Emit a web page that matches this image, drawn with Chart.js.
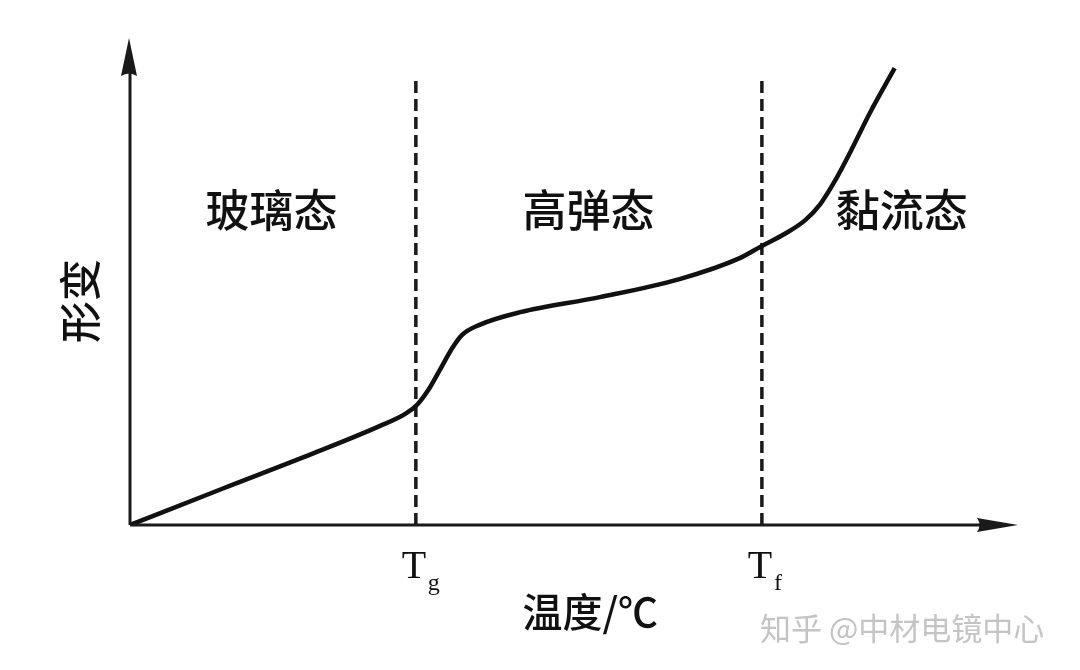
<!DOCTYPE html>
<html>
<head>
<meta charset="utf-8">
<script src="https://cdn.jsdelivr.net/npm/chart.js@4"></script>
<style>
  body { margin: 0; background: #fff; }
  #wrap { width: 1080px; height: 670px; }
</style>
</head>
<body>
<div id="wrap"><canvas id="chart" width="1080" height="670"></canvas></div>
<script>
// temperature (x) vs deformation (y), arbitrary units
const temps = [0, 10.5, 20.7, 28.2, 31.1, 32.5, 33.7, 35.0, 36.4, 37.5, 39.5, 44.1, 53.1, 62.1, 68.9, 71.4, 74.0, 76.3, 78.0, 79.7, 81.4, 83.6, 86.4];
const deform = [0, 7.5, 14.7, 20.3, 22.8, 24.8, 27.7, 31.8, 36.3, 39.0, 41.1, 43.7, 46.8, 50.5, 54.8, 57.3, 59.8, 62.6, 65.9, 70.8, 76.6, 84.6, 93.8];

const Tg = 32.3;
const Tf = 71.4;
const dashTop = 91.4;

const regionNames = ['玻璃态', '高弹态', '黏流态'];
const regionCenters = [16.0, 51.8, 87.2];
const regionLevel = 64.7;

const xTitle = '温度/℃';
const yTitle = '形变';
const tickNames = [['T', 'g'], ['T', 'f']];
const watermark = '知乎 @中材电镜中心';

const curve = temps.map((t, i) => ({ x: t, y: deform[i] }));

const decorPlugin = {
  id: 'decor',
  afterDraw (chart) {
    const ctx = chart.ctx;
    const xs = chart.scales.x;
    const ys = chart.scales.y;
    const x0 = xs.getPixelForValue(0);
    const y0 = ys.getPixelForValue(0);
    const xEnd = xs.getPixelForValue(100);
    const yEnd = ys.getPixelForValue(100);

    ctx.save();
    // axes
    ctx.strokeStyle = '#1a1a1a';
    ctx.fillStyle = '#1a1a1a';
    ctx.lineWidth = 3;
    ctx.beginPath();
    ctx.moveTo(x0, y0);
    ctx.lineTo(x0, yEnd + 20);
    ctx.moveTo(x0, y0);
    ctx.lineTo(xEnd - 20, y0);
    ctx.stroke();

    // arrow heads
    ctx.beginPath();
    ctx.moveTo(x0 - 1, yEnd);
    ctx.lineTo(x0 + 7, yEnd + 38);
    ctx.quadraticCurveTo(x0 - 1, yEnd + 33, x0 - 9, yEnd + 38);
    ctx.closePath();
    ctx.fill();

    ctx.beginPath();
    ctx.moveTo(xEnd + 3, y0);
    ctx.lineTo(xEnd - 38, y0 - 7);
    ctx.quadraticCurveTo(xEnd - 33, y0, xEnd - 38, y0 + 7);
    ctx.closePath();
    ctx.fill();

    // region labels
    ctx.fillStyle = '#111';
    ctx.textAlign = 'center';
    ctx.textBaseline = 'middle';
    ctx.font = '500 44px "Noto Sans CJK SC"';
    regionNames.forEach((name, i) => {
      ctx.fillText(name, xs.getPixelForValue(regionCenters[i]), ys.getPixelForValue(regionLevel));
    });

    // axis titles
    ctx.font = '500 40px "Noto Sans CJK SC"';
    ctx.fillText(xTitle, xs.getPixelForValue(52), y0 + 87);
    ctx.save();
    ctx.translate(x0 - 50, ys.getPixelForValue(46));
    ctx.rotate(-Math.PI / 2);
    ctx.font = '500 42px "Noto Sans CJK SC"';
    ctx.fillText(yTitle, 0, 0);
    ctx.restore();

    // Tg / Tf marks
    [Tg, Tf].forEach((v, i) => {
      const px = xs.getPixelForValue(v);
      ctx.textAlign = 'center';
      ctx.textBaseline = 'alphabetic';
      ctx.font = '40px "Liberation Serif"';
      ctx.fillText(tickNames[i][0], px - 2, y0 + 53);
      ctx.textAlign = 'left';
      ctx.font = '24px "Liberation Serif"';
      ctx.fillText(tickNames[i][1], px + 12, y0 + 65);
    });

    // watermark
    ctx.textAlign = 'left';
    ctx.textBaseline = 'middle';
    ctx.font = '31px "Noto Sans CJK SC"';
    ctx.fillStyle = '#c4c4c4';
    ctx.fillText(watermark, 760, 628);
    ctx.restore();
  }
};

new Chart(document.getElementById('chart'), {
  type: 'scatter',
  data: {
    datasets: [
      {
        data: curve,
        showLine: true,
        borderColor: '#111',
        borderWidth: 4.5,
        pointRadius: 0,
        cubicInterpolationMode: 'monotone'
      },
      {
        data: [{ x: Tg, y: 0 }, { x: Tg, y: dashTop }],
        showLine: true,
        borderColor: '#1a1a1a',
        borderWidth: 3.5,
        borderDash: [12, 6],
        pointRadius: 0
      },
      {
        data: [{ x: Tf, y: 0 }, { x: Tf, y: dashTop }],
        showLine: true,
        borderColor: '#1a1a1a',
        borderWidth: 3.5,
        borderDash: [12, 6],
        pointRadius: 0
      }
    ]
  },
  options: {
    responsive: false,
    animation: false,
    layout: { padding: { left: 130, right: 65, top: 38, bottom: 145 } },
    plugins: { legend: { display: false }, tooltip: { enabled: false } },
    scales: {
      x: { type: 'linear', min: 0, max: 100, display: false },
      y: { type: 'linear', min: 0, max: 100, display: false }
    }
  },
  plugins: [decorPlugin]
});
</script>
</body>
</html>
